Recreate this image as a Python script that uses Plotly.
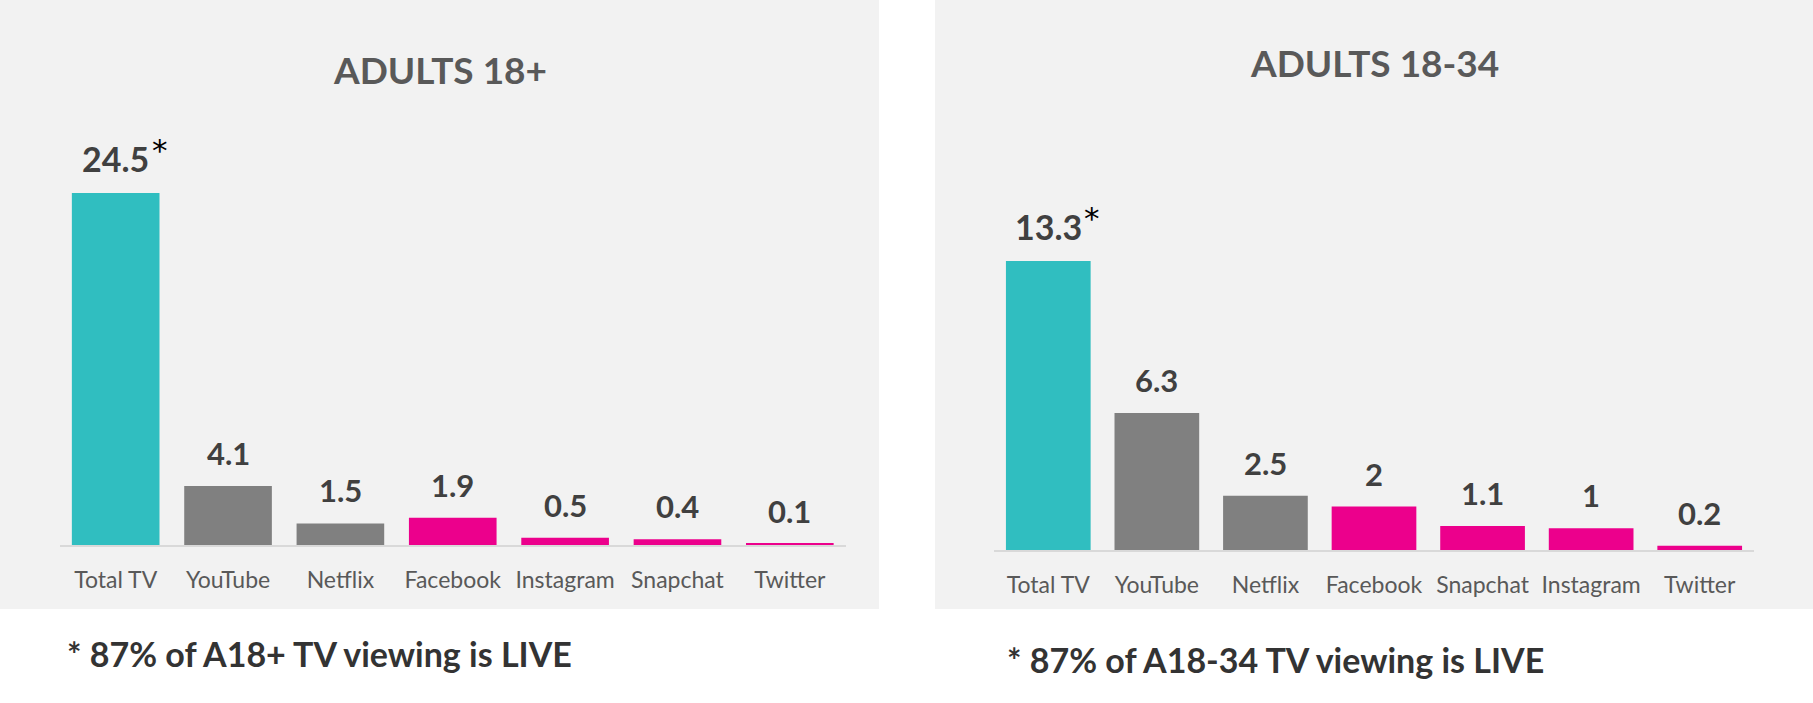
import plotly.graph_objects as go

# Average daily reach (minutes) by platform
adults_18_cats = ["Total TV", "YouTube", "Netflix", "Facebook", "Instagram", "Snapchat", "Twitter"]
adults_18_vals = [24.5, 4.1, 1.5, 1.9, 0.5, 0.4, 0.1]

adults_1834_cats = ["Total TV", "YouTube", "Netflix", "Facebook", "Snapchat", "Instagram", "Twitter"]
adults_1834_vals = [13.3, 6.3, 2.5, 2.0, 1.1, 1.0, 0.2]

panel_titles = ["ADULTS 18+", "ADULTS 18-34"]
footnotes = ["* 87% of A18+ TV viewing is LIVE", "* 87% of A18-34 TV viewing is LIVE"]

FONT = "Lato, 'Open Sans', sans-serif"
TEAL = "#30BEC0"
GREY = "#808080"
PINK = "#EC008C"
PANEL_BG = "#F2F2F2"


def bar_color(cat: str) -> str:
        if cat == "Total TV":
                return TEAL
        if cat in ("YouTube", "Netflix"):
                return GREY
        return PINK


W, H = 1813, 703

fig = go.Figure()

# grey panel backgrounds
fig.add_shape(type="rect", xref="paper", yref="paper", x0=0, x1=879 / W, y0=1 - 609 / H, y1=1,
              fillcolor=PANEL_BG, line=dict(width=0), layer="below")
fig.add_shape(type="rect", xref="paper", yref="paper", x0=935 / W, x1=1, y0=1 - 609 / H, y1=1,
              fillcolor=PANEL_BG, line=dict(width=0), layer="below")

panels = [
        (adults_18_cats, adults_18_vals, "x", "y"),
        (adults_1834_cats, adults_1834_vals, "x2", "y2"),
]
for cats, vals, xa, ya in panels:
        fig.add_trace(go.Bar(
                x=cats, y=vals, xaxis=xa, yaxis=ya,
                marker=dict(color=[bar_color(c) for c in cats], line=dict(width=0)),
                hoverinfo="x+y", showlegend=False,
        ))
        for i, (c, v) in enumerate(zip(cats, vals)):
                big = i == 0
                fig.add_annotation(
                        x=c, y=v, xref=xa, yref=ya, text=f"{v:g}",
                        showarrow=False, yanchor="bottom", yshift=12,
                        font=dict(family=FONT, size=34 if big else 31, color="#404040", weight="bold"),
                )
                if big:
                        # asterisk hangs off the right of the Total TV value
                        fig.add_annotation(
                                x=c, y=v, xref=xa, yref=ya, text="*",
                                showarrow=False, yanchor="bottom", xanchor="left", xshift=34, yshift=23,
                                font=dict(family="'DejaVu Sans', sans-serif", size=31, color="#000000"),
                        )

axis_common = dict(
        showgrid=False, zeroline=False, showline=True, linecolor="#D9D9D9", linewidth=2,
        ticks="", tickfont=dict(family=FONT, size=23, color="#595959"),
        ticklabelstandoff=13, fixedrange=True,
)
yaxis_common = dict(visible=False, showgrid=False, zeroline=False, fixedrange=True)

fig.update_layout(
        width=W, height=H,
        margin=dict(l=0, r=0, t=0, b=0),
        paper_bgcolor="white", plot_bgcolor="rgba(0,0,0,0)",
        bargap=0.22,
        xaxis=dict(domain=[59.5 / W, 846 / W], anchor="y", **axis_common),
        yaxis=dict(domain=[1 - 545 / H, 1], range=[0, 545 / 14.37], anchor="x", **yaxis_common),
        xaxis2=dict(domain=[994 / W, 1754 / W], anchor="y2", **axis_common),
        yaxis2=dict(domain=[1 - 550 / H, 1], range=[0, 550 / 21.73], anchor="x2", **yaxis_common),
)

# panel titles
for title, xc, yc in zip(panel_titles, [440, 1374], [70, 62]):
        fig.add_annotation(
                x=xc / W, y=1 - yc / H, xref="paper", yref="paper", text=title,
                showarrow=False, xanchor="center", yanchor="middle",
                font=dict(family=FONT, size=37, color="#595959", weight="bold"),
        )

# footnotes
for note, xl, yc in zip(footnotes, [65, 1005], [653, 659]):
        fig.add_annotation(
                x=xl / W, y=1 - yc / H, xref="paper", yref="paper", text=note,
                showarrow=False, xanchor="left", yanchor="middle",
                font=dict(family=FONT, size=34, color="#333333", weight="bold"),
        )

fig.write_html("out.html", config={"displayModeBar": False},
               post_script="document.body.style.margin='0px';")
